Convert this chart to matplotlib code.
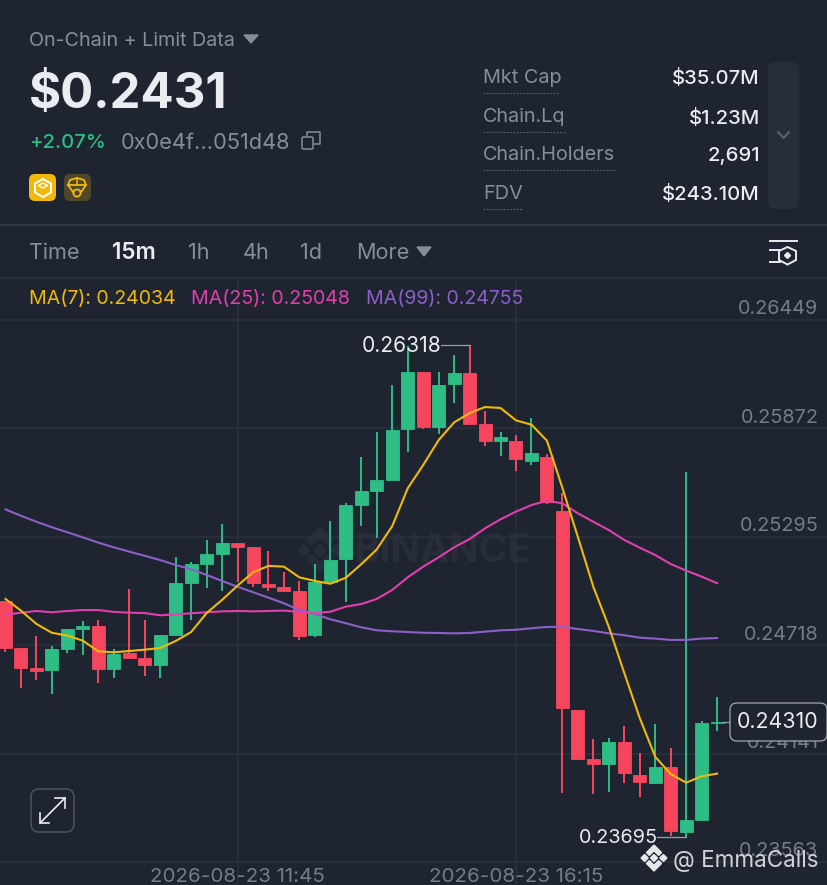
"""
Token price panel: header stats, 15m candles with MA(7), MA(25), MA(99).
"""

import matplotlib
matplotlib.use("Agg")
import matplotlib.pyplot as plt
from matplotlib.patches import FancyBboxPatch, Polygon, Circle

plt.rcParams['font.family'] = ['Inter', 'DejaVu Sans']

# candle values, oldest first
opens = [0.24953, 0.24701, 0.24595, 0.24584, 0.24698, 0.24806, 0.24822, 0.24593, 0.24675, 0.24651,
         0.24613, 0.24772, 0.25051, 0.25150, 0.25205, 0.25262, 0.25241, 0.25044, 0.25029, 0.25006,
         0.24771, 0.25054, 0.25175, 0.25464, 0.25540, 0.25599, 0.25870, 0.26171, 0.25881, 0.26107,
         0.26165, 0.25894, 0.25805, 0.25803, 0.25698, 0.25718, 0.25434, 0.24371, 0.24111, 0.24084,
         0.24201, 0.24027, 0.23986, 0.24070, 0.23722, 0.23787, 0.24304]
highs = [0.24953, 0.24701, 0.24769, 0.24714, 0.24804, 0.24845, 0.24850, 0.24696, 0.25017, 0.24852,
         0.24771, 0.25186, 0.25159, 0.25278, 0.25362, 0.25262, 0.25241, 0.25219, 0.25106, 0.25060,
         0.25150, 0.25377, 0.25473, 0.25721, 0.25851, 0.26105, 0.26311, 0.26171, 0.26171, 0.26264,
         0.26318, 0.25966, 0.25854, 0.25835, 0.25926, 0.25734, 0.25528, 0.24371, 0.24219, 0.24226,
         0.24286, 0.24143, 0.24299, 0.24169, 0.25638, 0.24313, 0.24441]
lows = [0.24680, 0.24492, 0.24533, 0.24457, 0.24678, 0.24664, 0.24515, 0.24545, 0.24651, 0.24556,
        0.24545, 0.24772, 0.24854, 0.25021, 0.25008, 0.25056, 0.25029, 0.25008, 0.25000, 0.24746,
        0.24763, 0.25054, 0.24949, 0.25352, 0.25287, 0.25599, 0.25745, 0.25870, 0.25844, 0.26009,
        0.25895, 0.25777, 0.25723, 0.25647, 0.25677, 0.25468, 0.23930, 0.24111, 0.23926, 0.23938,
        0.23986, 0.23910, 0.23979, 0.23700, 0.23695, 0.23787, 0.24263]
closes = [0.24701, 0.24595, 0.24582, 0.24696, 0.24804, 0.24822, 0.24593, 0.24673, 0.24651, 0.24613,
          0.24771, 0.25049, 0.25149, 0.25203, 0.25262, 0.25241, 0.25047, 0.25029, 0.25006, 0.24769,
          0.25054, 0.25171, 0.25463, 0.25539, 0.25596, 0.25863, 0.26172, 0.25879, 0.26103, 0.26165,
          0.25895, 0.25805, 0.25826, 0.25708, 0.25739, 0.25482, 0.24382, 0.24111, 0.24084, 0.24204,
          0.24036, 0.23988, 0.24070, 0.23731, 0.23787, 0.24305, 0.24310]

ma7 = [0.24964, 0.24902, 0.24831, 0.24784, 0.24769, 0.24742, 0.24685, 0.24680, 0.24687, 0.24694,
       0.24703, 0.24740, 0.24788, 0.24889, 0.24959, 0.25035, 0.25106, 0.25140, 0.25136, 0.25079,
       0.25060, 0.25045, 0.25077, 0.25149, 0.25228, 0.25352, 0.25553, 0.25677, 0.25810, 0.25904,
       0.25954, 0.25986, 0.25981, 0.25915, 0.25892, 0.25807, 0.25555, 0.25294, 0.25029, 0.24816,
       0.24570, 0.24330, 0.24124, 0.24032, 0.23986, 0.24020, 0.24034]
ma25 = [0.24880, 0.24891, 0.24900, 0.24893, 0.24900, 0.24905, 0.24905, 0.24895, 0.24891, 0.24889,
        0.24877, 0.24882, 0.24888, 0.24893, 0.24898, 0.24900, 0.24898, 0.24900, 0.24902, 0.24895,
        0.24888, 0.24896, 0.24923, 0.24937, 0.24964, 0.25012, 0.25079, 0.25136, 0.25186, 0.25239,
        0.25283, 0.25340, 0.25388, 0.25429, 0.25464, 0.25487, 0.25473, 0.25420, 0.25375, 0.25331,
        0.25278, 0.25237, 0.25198, 0.25150, 0.25115, 0.25083, 0.25048]
ma99 = [0.25441, 0.25407, 0.25375, 0.25346, 0.25319, 0.25292, 0.25264, 0.25239, 0.25216, 0.25194,
        0.25171, 0.25145, 0.25122, 0.25092, 0.25060, 0.25029, 0.25000, 0.24971, 0.24941, 0.24905,
        0.24884, 0.24856, 0.24835, 0.24813, 0.24797, 0.24792, 0.24788, 0.24784, 0.24783, 0.24781,
        0.24783, 0.24790, 0.24797, 0.24800, 0.24808, 0.24815, 0.24816, 0.24804, 0.24794, 0.24781,
        0.24771, 0.24758, 0.24753, 0.24746, 0.24746, 0.24753, 0.24756]

price_ticks = [0.26449, 0.25872, 0.25295, 0.24718, 0.24141, 0.23563]
time_ticks = [15, 33]
time_labels = ['2026-08-23 11:45', '2026-08-23 16:15']
high_price, high_index = 0.26318, 30
low_price, low_index = 0.23695, 44
last_price = 0.24310

stat_names = ['Mkt Cap', 'Chain.Lq', 'Chain.Holders', 'FDV']
stat_values = ['$35.07M', '$1.23M', '2,691', '$243.10M']
intervals = ['Time', '15m', '1h', '4h', '1d', 'More']

BG = '#1e2530'
GRID = '#2b313c'
GREY = '#848e9c'
AXIS_GREY = '#757c88'
WHITE = '#eaecef'
GREEN = '#2ebd85'
RED = '#f6465d'
YELLOW = '#f0b90b'
PINK = '#e23fae'
PURPLE = '#8d5fc9'

fig = plt.figure(figsize=(8.28, 8.85), dpi=100, facecolor=BG)

# chart area runs from y=278 to the bottom of the image
ax = fig.add_axes([0, 0, 1, (885 - 278) / 885], facecolor=BG, zorder=1)
# overlay in image pixels for the app chrome
ui = fig.add_axes([0, 0, 1, 1], zorder=3)
ui.set_xlim(0, 828)
ui.set_ylim(885, 0)
ui.axis('off')

ax.set_xlim(-0.3555, 53.17)
ax.set_ylim(0.23441, 0.26673)
for side in ax.spines.values():
    side.set_visible(False)
ax.set_yticks(price_ticks)
ax.set_xticks(time_ticks)
ax.tick_params(length=0, labelleft=False, labelbottom=False)
ax.grid(True, color=GRID, linewidth=1.1)
ax.set_axisbelow(True)


def binance_logo(parent, cx, cy, r, color, z):
    # centre and side diamonds, chevrons above and below
    for dx in (-0.72 * r, 0, 0.72 * r):
        d = 0.27 * r
        parent.add_patch(Polygon([(cx + dx - d, cy), (cx + dx, cy - d), (cx + dx + d, cy), (cx + dx, cy + d)],
                                 color=color, zorder=z, transform=ui.transData, clip_on=False))
    for s in (-1, 1):
        pts = [(cx, cy + s * r), (cx + 0.58 * r, cy + s * 0.42 * r), (cx + 0.36 * r, cy + s * 0.2 * r),
               (cx, cy + s * 0.56 * r), (cx - 0.36 * r, cy + s * 0.2 * r), (cx - 0.58 * r, cy + s * 0.42 * r)]
        parent.add_patch(Polygon(pts, color=color, zorder=z, transform=ui.transData, clip_on=False))


# watermark sits under the candles
binance_logo(ax, 320, 550, 23, '#272d39', 0.5)
ax.text(355, 551, 'BINANCE', transform=ui.transData, color='#272d39', fontsize=28, fontweight='bold',
        va='center', ha='left', zorder=0.5)

# candles
for i in range(len(opens)):
    color = GREEN if closes[i] >= opens[i] else RED
    ax.vlines(i, lows[i], highs[i], color=color, linewidth=1.4, zorder=2)
    ax.bar(i, abs(closes[i] - opens[i]), bottom=min(opens[i], closes[i]), width=0.84,
           color=color, edgecolor=color, linewidth=0.6, zorder=2)

xs = list(range(len(ma7)))
ax.plot(xs, ma99, color=PURPLE, linewidth=1.5, zorder=3)
ax.plot(xs, ma25, color=PINK, linewidth=1.5, zorder=3)
ax.plot(xs, ma7, color=YELLOW, linewidth=1.5, zorder=3)

# price axis labels sit just above their grid lines
for p in price_ticks:
    ax.annotate(f'{p:.5f}', xy=(818.5, p), xycoords=(ui.transData, 'data'), xytext=(0, 1.2), textcoords='offset points',
                ha='right', va='bottom', color=AXIS_GREY, fontsize=14.3, zorder=4, annotation_clip=False)
for t, label in zip(time_ticks, time_labels):
    ax.annotate(label, xy=(t, 877.5), xycoords=('data', ui.transData), ha='center', va='center',
                color=AXIS_GREY, fontsize=14.8, zorder=4, annotation_clip=False)

# high and low markers
ax.plot([high_index - 1.84, high_index], [high_price, high_price], color='#9aa0a9', linewidth=0.9, zorder=4)
ax.annotate(f'{high_price:.5f}', xy=(high_index - 1.84, high_price), xytext=(0, -0.7), textcoords='offset points',
            ha='right', va='center', color=WHITE, fontsize=15.2, zorder=4)
ax.plot([low_index - 1.87, low_index], [low_price, low_price], color='#9aa0a9', linewidth=0.9, zorder=4)
ax.annotate(f'{low_price:.5f}', xy=(low_index - 1.87, low_price), xytext=(0.7, -0.7), textcoords='offset points',
            ha='right', va='center', color=WHITE, fontsize=14.3, zorder=4)

# last price box
ax.plot([46.4, 46.9], [last_price, last_price], color='#9aa0a9', linewidth=0.9, zorder=4)
ax.annotate(f'{last_price:.5f}', xy=(778, last_price), xycoords=(ui.transData, 'data'), ha='center', va='center',
            color=WHITE, fontsize=15.4, zorder=6, annotation_clip=False)
ax.add_patch(FancyBboxPatch((735, 708), 87, 28, boxstyle='round,pad=5,rounding_size=7', transform=ui.transData,
                            facecolor=BG, edgecolor='#a4a8af', linewidth=0.9, zorder=5, clip_on=False))

# header
ui.text(29, 41, 'On-Chain + Limit Data', color=GREY, fontsize=14.2, va='center')
ui.add_patch(Polygon([(244, 35), (258, 35), (251, 43)], color=GREY))
ui.text(29, 95, '$0.2431', color=WHITE, fontsize=35.4, fontweight='bold', va='center')
ui.text(29, 143, '+2.07%', color=GREEN, fontsize=14.6, fontweight='medium', va='center')
ui.text(121, 143, '0x0e4f...051d48', color=GREY, fontsize=15.7, va='center')
ui.add_patch(FancyBboxPatch((302, 137), 11, 12, boxstyle='round,pad=0,rounding_size=1.5', fill=False,
                            edgecolor=GREY, linewidth=1.1))
ui.plot([307, 307, 320, 320, 314], [136, 132, 132, 144, 144], color=GREY, linewidth=1.1)

# chain and launch badges
ui.add_patch(FancyBboxPatch((30, 175), 25, 25, boxstyle='round,pad=1,rounding_size=6', facecolor=YELLOW, linewidth=0))
ui.add_patch(Polygon([(43, 179), (51, 183.5), (51, 192.5), (43, 197), (35, 192.5), (35, 183.5)],
                     fill=False, edgecolor='white', linewidth=1.4))
ui.add_patch(Polygon([(43, 183), (47.5, 185.5), (43, 188), (38.5, 185.5)], fill=False, edgecolor='white', linewidth=1))
ui.add_patch(FancyBboxPatch((65, 175), 25, 25, boxstyle='round,pad=1,rounding_size=6', facecolor='#50462a', linewidth=0))
ui.plot([68, 70, 77, 84, 86, 68], [185, 180, 178, 180, 185, 185], color=YELLOW, linewidth=1.3)
ui.plot([68, 73], [185, 192], color=YELLOW, linewidth=1.3)
ui.plot([86, 81], [185, 192], color=YELLOW, linewidth=1.3)
ui.plot([77, 77], [178, 185], color=YELLOW, linewidth=1.1)
ui.add_patch(Circle((77, 193), 3.6, fill=False, edgecolor=YELLOW, linewidth=1.3))

# stats table
stat_y = [76, 115, 153, 192]
line_ends = [560, 566, 616, 523]
for name, value, y, end in zip(stat_names, stat_values, stat_y, line_ends):
    ui.text(483, y + 2, name, color=GREY, fontsize=14.3, va='center')
    ui.text(760, y + 3, value, color=WHITE, fontsize=14.6, fontweight='medium', va='center', ha='right')
    ui.plot([483, end], [y + 16.5, y + 16.5], color='#5e6673', linewidth=0.8, linestyle=(0, (1.5, 1.5)))
ui.add_patch(FancyBboxPatch((772, 66), 23, 139, boxstyle='round,pad=4,rounding_size=7', facecolor='#282e39', linewidth=0))
ui.plot([778, 783.5, 789], [132, 138, 132], color='#616874', linewidth=1.3)

ui.plot([0, 828], [225, 225], color='#343a46', linewidth=1.3)

# interval tabs
tab_x = [29, 112, 188, 243, 300, 356]
for name, x in zip(intervals, tab_x):
    active = name == '15m'
    ui.text(x, 253, name, color=WHITE if active else GREY, fontsize=16.2 if active else 15.6, va='center',
            fontweight='semibold' if active else 'normal')
ui.add_patch(Polygon([(417, 247), (431, 247), (424, 256)], color=GREY))

# settings icon
ui.plot([770, 797], [240.5, 240.5], color=WHITE, linewidth=1.4)
ui.plot([770, 780], [250, 250], color=WHITE, linewidth=1.4)
ui.plot([770, 780], [261.5, 261.5], color=WHITE, linewidth=1.4)
ui.add_patch(Polygon([(787.5, 247), (796, 251), (796, 260), (787.5, 264.5), (779, 260), (779, 251)],
                     fill=False, edgecolor=WHITE, linewidth=1.4))
ui.add_patch(Polygon([(787.5, 252.5), (790.5, 255.5), (787.5, 258.5), (784.5, 255.5)], color=WHITE))

ui.plot([0, 828], [278, 278], color=GRID, linewidth=1.1)

# moving average legend
ui.text(29, 299, 'MA(7): 0.24034', color=YELLOW, fontsize=14.05, va='center')
ui.text(191, 299, 'MA(25): 0.25048', color=PINK, fontsize=14.1, va='center')
ui.text(366, 299, 'MA(99): 0.24755', color=PURPLE, fontsize=14.05, va='center')

# expand button
ui.add_patch(FancyBboxPatch((35, 793), 35, 35, boxstyle='round,pad=4,rounding_size=8', facecolor=BG,
                            edgecolor='#4a505b', linewidth=1.2, zorder=5))
ui.plot([40, 65], [823, 798], color=WHITE, linewidth=1.2, zorder=6)
ui.plot([40, 40, 49], [813, 823, 823], color=WHITE, linewidth=1.2, zorder=6)
ui.plot([55, 65, 65], [798, 798, 808], color=WHITE, linewidth=1.2, zorder=6)

# credit in the corner
binance_logo(ui, 654, 858, 13, '#e6e8ea', 7)
ui.text(673, 861, '@ EmmaCalls', color='#d0d3d7', fontsize=16.2, va='center', zorder=7)

fig.savefig('out.png', dpi=100, facecolor=BG)
